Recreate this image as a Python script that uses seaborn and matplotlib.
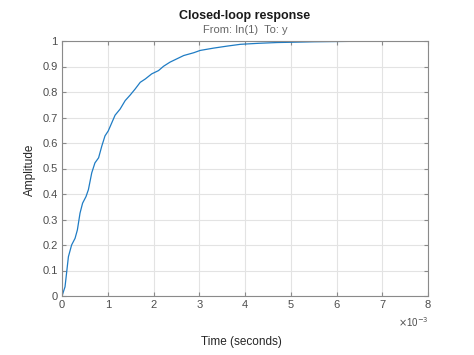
import matplotlib
matplotlib.use("Agg")
import matplotlib.pyplot as plt
import seaborn as sns
import pandas as pd

time_ms = [0, 0.066, 0.14, 0.21, 0.285, 0.336, 0.394, 0.45, 0.525, 0.577, 0.65, 0.72, 0.80,
           0.87, 0.94, 1.01, 1.09, 1.16, 1.27, 1.38, 1.49, 1.6, 1.71, 1.82, 1.96, 2.11,
           2.22, 2.36, 2.51, 2.66, 2.88, 3.02, 3.31, 3.61, 3.9, 4.3, 4.7, 5.0, 5.5, 6.0,
           6.5, 7.0, 7.5, 8.0]
amplitude = [0, 0.036, 0.154, 0.2, 0.226, 0.259, 0.325, 0.364, 0.39, 0.417, 0.483, 0.522, 0.542,
             0.588, 0.628, 0.647, 0.68, 0.709, 0.733, 0.766, 0.788, 0.812, 0.838, 0.851, 0.871,
             0.884, 0.901, 0.917, 0.93, 0.943, 0.954, 0.963, 0.972, 0.98, 0.987, 0.991, 0.994,
             0.995, 0.997, 0.998, 0.999, 0.999, 1.0, 1.0]
x_ticks = [0, 1, 2, 3, 4, 5, 6, 7, 8]
y_ticks = [0, 0.1, 0.2, 0.3, 0.4, 0.5, 0.6, 0.7, 0.8, 0.9, 1]
y_tick_labels = ["0", "0.1", "0.2", "0.3", "0.4", "0.5", "0.6", "0.7", "0.8", "0.9", "1"]

sns.set_style("white")
plt.rcParams['font.family'] = ['Liberation Sans', 'DejaVu Sans']

df = pd.DataFrame({"t": time_ms, "y": amplitude})

fig = plt.figure(figsize=(4.74, 3.55), dpi=100)
ax = fig.add_axes([62/474, 1-296/355, (428-62)/474, (296-41)/355])
sns.lineplot(data=df, x="t", y="y", ax=ax, color="#1f7cc4", linewidth=0.9)

ax.set_xlim(0, 8)
ax.set_ylim(0, 1)
ax.set_xticks(x_ticks)
ax.set_xticklabels([str(v) for v in x_ticks])
ax.set_yticks(y_ticks)
ax.set_yticklabels(y_tick_labels)
ax.grid(True, color="#e3e3e3", linewidth=0.8)
ax.set_axisbelow(True)
for s in ax.spines.values():
    s.set_color("#8a8a8a")
    s.set_linewidth(0.8)
ax.tick_params(direction="in", length=3, color="#8a8a8a", labelcolor="#4d4d4d", labelsize=8,
               top=True, right=True, bottom=True, left=True, pad=3)
ax.set_xlabel("")
ax.set_ylabel("")

fig.text(245/474, 1-16/355, "Closed-loop response", ha="center", va="center",
         fontsize=9, fontweight="bold", color="#1a1a1a")
fig.text(245/474, 1-30/355, "From: In(1)  To: y", ha="center", va="center",
         fontsize=8, color="#666666")
fig.text(241/474, 1-342/355, "Time (seconds)", ha="center", va="center",
         fontsize=8.5, color="#262626")
fig.text(30/474, 1-170/355, "Amplitude", ha="center", va="center", rotation=90,
         fontsize=8.5, color="#262626")
fig.text(429/474, 1-322/355, r"$\times$10$^{-3}$", ha="right", va="center",
         fontsize=7, color="#4d4d4d")

fig.savefig("out.png", dpi=100)
